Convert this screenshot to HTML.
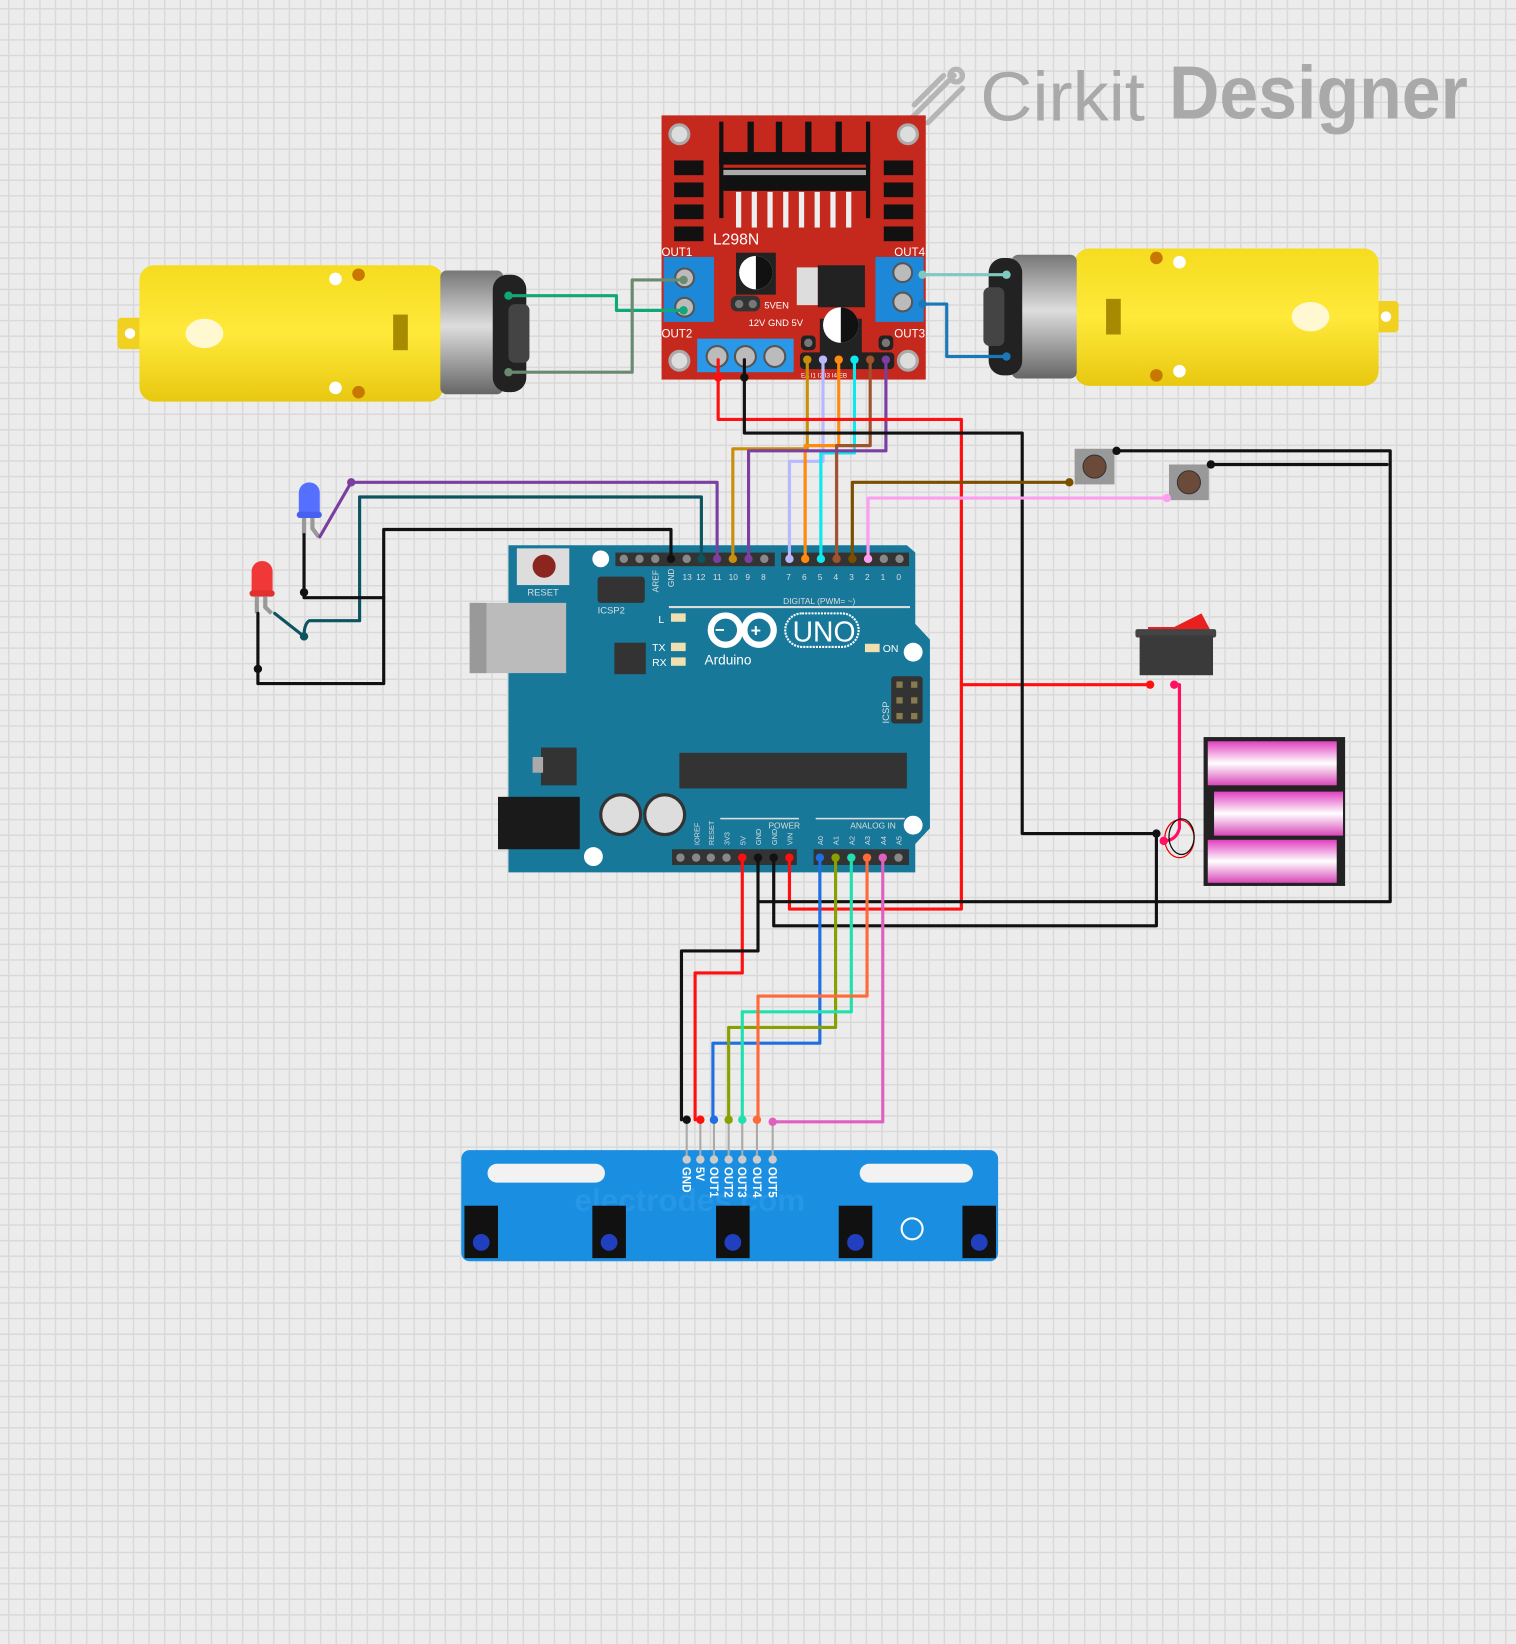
<!DOCTYPE html>
<html><head><meta charset="utf-8"><style>
html,body{margin:0;padding:0;}
body{width:1516px;height:1644px;overflow:hidden;background-color:#ececec;
background-image:linear-gradient(to right,#d9d9d9 1.5px,transparent 1.5px),linear-gradient(to bottom,#d9d9d9 1.5px,transparent 1.5px);
background-size:15.6px 15.6px;background-position:8px 8px;}
svg{position:absolute;left:0;top:0;}
text{font-family:"Liberation Sans",sans-serif;}
.w{fill:none;stroke-width:3;stroke-linejoin:round;stroke-linecap:round;}
</style></head><body>
<svg width="1516" height="1644" viewBox="0 0 1446 1568" xmlns="http://www.w3.org/2000/svg">
<defs>
<linearGradient id="yel" x1="0" y1="0" x2="0" y2="1"><stop offset="0" stop-color="#f5dc20"/><stop offset=".5" stop-color="#ffe93a"/><stop offset="1" stop-color="#e8c810"/></linearGradient>
<linearGradient id="met" x1="0" y1="0" x2="0" y2="1"><stop offset="0" stop-color="#777"/><stop offset=".45" stop-color="#ddd"/><stop offset="1" stop-color="#666"/></linearGradient>
<linearGradient id="pink" x1="0" y1="0" x2="0" y2="1"><stop offset="0" stop-color="#e040c0"/><stop offset=".5" stop-color="#fff"/><stop offset="1" stop-color="#d848b8"/></linearGradient>
</defs>

<!-- Logo -->
<g stroke="#b5b5b5" stroke-width="5" fill="none" stroke-linecap="round">
<line x1="870" y1="112" x2="910" y2="72"/><line x1="885" y1="117" x2="918" y2="84"/><line x1="872" y1="100" x2="900" y2="72"/>
<circle cx="912" cy="72" r="6"/></g>
<text x="935" y="115" font-size="66" fill="#a9a9a9" textLength="157" lengthAdjust="spacingAndGlyphs">Cirkit</text>
<text x="1115" y="113" font-size="72" font-weight="bold" fill="#a9a9a9" textLength="285" lengthAdjust="spacingAndGlyphs">Designer</text>

<!-- Left motor -->
<rect x="112" y="303" width="30" height="30" rx="4" fill="#f0d020"/>
<circle cx="124" cy="318" r="5" fill="#fff"/>
<rect x="133" y="253" width="290" height="130" rx="14" fill="url(#yel)"/>
<ellipse cx="195" cy="318" rx="18" ry="14" fill="#fff8d0"/>
<rect x="375" y="300" width="14" height="34" fill="#a88a00"/>
<circle cx="320" cy="266" r="6" fill="#fff"/><circle cx="342" cy="262" r="6" fill="#c87800"/>
<circle cx="320" cy="370" r="6" fill="#fff"/><circle cx="342" cy="374" r="6" fill="#c87800"/>
<rect x="420" y="258" width="60" height="118" rx="6" fill="url(#met)"/>
<rect x="470" y="262" width="32" height="112" rx="14" fill="#222"/>
<rect x="485" y="290" width="20" height="56" rx="6" fill="#444"/>

<!-- Right motor -->
<rect x="1308" y="287" width="26" height="30" rx="4" fill="#f0d020"/>
<circle cx="1322" cy="302" r="5" fill="#fff"/>
<rect x="1025" y="237" width="290" height="131" rx="14" fill="url(#yel)"/>
<ellipse cx="1250" cy="302" rx="18" ry="14" fill="#fff8d0"/>
<rect x="1055" y="285" width="14" height="34" fill="#a88a00"/>
<circle cx="1125" cy="250" r="6" fill="#fff"/><circle cx="1103" cy="246" r="6" fill="#c87800"/>
<circle cx="1125" cy="354" r="6" fill="#fff"/><circle cx="1103" cy="358" r="6" fill="#c87800"/>
<rect x="965" y="243" width="62" height="118" rx="6" fill="url(#met)"/>
<rect x="943" y="246" width="32" height="112" rx="14" fill="#222"/>
<rect x="938" y="274" width="20" height="56" rx="6" fill="#444"/>

<!-- L298N -->
<rect x="631" y="110" width="252" height="252" fill="#c5281c"/>
<g fill="#ddd" stroke="#aaa" stroke-width="3"><circle cx="648" cy="128" r="9"/><circle cx="866" cy="128" r="9"/><circle cx="648" cy="344" r="9"/><circle cx="866" cy="344" r="9"/></g>
<g fill="#111"><rect x="686" y="116" width="4" height="92"/><rect x="826" y="116" width="4" height="92"/>
<rect x="686" y="145" width="144" height="12"/><rect x="713" y="116" width="6" height="35"/><rect x="740" y="116" width="6" height="35"/><rect x="768" y="116" width="6" height="35"/><rect x="797" y="116" width="6" height="35"/>
<rect x="690" y="160" width="136" height="22"/></g>
<rect x="690" y="162" width="136" height="5" fill="#aaa"/>
<g fill="#eee"><rect x="702" y="183" width="5" height="34"/><rect x="717" y="183" width="5" height="34"/><rect x="732" y="183" width="5" height="34"/><rect x="747" y="183" width="5" height="34"/><rect x="762" y="183" width="5" height="34"/><rect x="777" y="183" width="5" height="34"/><rect x="792" y="183" width="5" height="34"/><rect x="807" y="183" width="5" height="34"/></g>
<g fill="#111"><rect x="643" y="153" width="28" height="14"/><rect x="643" y="174" width="28" height="14"/><rect x="643" y="195" width="28" height="14"/><rect x="643" y="216" width="28" height="14"/>
<rect x="843" y="153" width="28" height="14"/><rect x="843" y="174" width="28" height="14"/><rect x="843" y="195" width="28" height="14"/><rect x="843" y="216" width="28" height="14"/></g>
<text x="680" y="233" font-size="15" fill="#fff" font-family="Liberation Mono">L298N</text>
<text x="631" y="244" font-size="11" fill="#fff" font-family="Liberation Mono">OUT1</text>
<text x="853" y="244" font-size="11" fill="#fff" font-family="Liberation Mono">OUT4</text>
<text x="631" y="322" font-size="11" fill="#fff" font-family="Liberation Mono">OUT2</text>
<text x="853" y="322" font-size="11" fill="#fff" font-family="Liberation Mono">OUT3</text>
<text x="714" y="311" font-size="9" fill="#fff" font-family="Liberation Mono">12V GND  5V</text>
<text x="729" y="294" font-size="9" fill="#fff" font-family="Liberation Mono">5VEN</text>
<rect x="702" y="241" width="38" height="40" fill="#222"/>
<circle cx="721" cy="260" r="16" fill="#fff"/><path d="M721 244 a16 16 0 0 1 0 32z" fill="#111"/>
<rect x="780" y="253" width="45" height="40" fill="#222"/><rect x="760" y="255" width="20" height="36" fill="#ddd"/>
<rect x="697" y="282" width="28" height="15" rx="6" fill="#333"/><circle cx="705" cy="290" r="4" fill="#777"/><circle cx="718" cy="290" r="4" fill="#777"/>
<rect x="782" y="304" width="40" height="40" fill="#222"/><circle cx="802" cy="310" r="17" fill="#fff"/><path d="M802 293 a17 17 0 0 1 0 34z" fill="#111"/>
<rect x="633" y="245" width="48" height="62" fill="#1e88d8"/>
<rect x="835" y="245" width="46" height="62" fill="#1e88d8"/>
<rect x="665" y="323" width="92" height="32" fill="#2a98e8"/>
<g fill="#bbb" stroke="#555" stroke-width="2"><circle cx="653" cy="265" r="9"/><circle cx="653" cy="293" r="9"/><circle cx="861" cy="260" r="9"/><circle cx="861" cy="288" r="9"/>
<circle cx="684" cy="340" r="10"/><circle cx="711" cy="340" r="10"/><circle cx="739" cy="340" r="10"/></g>
<rect x="764" y="320" width="14" height="14" rx="4" fill="#222"/><circle cx="771" cy="327" r="4" fill="#777"/>
<rect x="838" y="320" width="14" height="14" rx="4" fill="#222"/><circle cx="845" cy="327" r="4" fill="#777"/>
<rect x="763" y="336" width="90" height="16" rx="4" fill="#222"/>
<text x="764" y="360" font-size="6" fill="#fff">EA I1 I2 I3 I4 EB</text>

<!-- Arduino -->
<path d="M508 520 H865 L873 527 V595 L887 610 V790 L873 805 V832 H485 V520Z" fill="#17789a"/>
<rect x="493" y="523" width="50" height="35" fill="#ddd"/><circle cx="519" cy="540" r="11" fill="#8b2520"/>
<text x="503" y="568" font-size="9" fill="#ddd">RESET</text>
<rect x="448" y="575" width="92" height="67" fill="#bbb"/><rect x="448" y="575" width="16" height="67" fill="#999"/>
<rect x="570" y="550" width="45" height="25" rx="3" fill="#333"/><text x="570" y="585" font-size="9" fill="#ddd">ICSP2</text>
<circle cx="573" cy="533" r="8" fill="#fff"/><circle cx="871" cy="622" r="9" fill="#fff"/><circle cx="871" cy="787" r="9" fill="#fff"/><circle cx="566" cy="817" r="9" fill="#fff"/>
<rect x="587" y="527" width="152" height="13" fill="#333"/><rect x="745" y="527" width="122" height="13" fill="#333"/>
<g fill="#888"><circle cx="595" cy="533" r="4"/><circle cx="610" cy="533" r="4"/><circle cx="625" cy="533" r="4"/><circle cx="655" cy="533" r="4"/><circle cx="729" cy="533" r="4"/><circle cx="843" cy="533" r="4"/><circle cx="858" cy="533" r="4"/></g>
<g font-size="8" fill="#ddd"><text transform="translate(628,565) rotate(-90)">AREF</text><text transform="translate(643,560) rotate(-90)">GND</text></g>
<g font-size="8" fill="#ddd"><text x="651" y="553">13</text><text x="664" y="553">12</text><text x="680" y="553">11</text><text x="695" y="553">10</text><text x="711" y="553">9</text><text x="726" y="553">8</text><text x="750" y="553">7</text><text x="765" y="553">6</text><text x="780" y="553">5</text><text x="795" y="553">4</text><text x="810" y="553">3</text><text x="825" y="553">2</text><text x="840" y="553">1</text><text x="855" y="553">0</text>
<text x="747" y="576">DIGITAL (PWM=  ~)</text></g>
<rect x="638" y="578" width="230" height="2" fill="#ddd"/>
<text x="628" y="594" font-size="10" fill="#fff">L</text><rect x="640" y="585" width="14" height="8" fill="#f0e0b0"/>
<text x="622" y="621" font-size="10" fill="#fff">TX</text><rect x="640" y="613" width="14" height="8" fill="#f0e0b0"/>
<text x="622" y="635" font-size="10" fill="#fff">RX</text><rect x="640" y="627" width="14" height="8" fill="#f0e0b0"/>
<rect x="586" y="613" width="30" height="30" fill="#333"/>
<g fill="none" stroke="#fff" stroke-width="6"><circle cx="692" cy="601" r="14"/><circle cx="724" cy="601" r="14"/></g>
<text x="682" y="606" font-size="16" font-weight="bold" fill="#fff">−</text><text x="716" y="607" font-size="17" font-weight="bold" fill="#fff">+</text>
<rect x="749" y="585" width="70" height="32" rx="16" fill="none" stroke="#fff" stroke-width="2" stroke-dasharray="2 1"/>
<text x="756" y="612" font-size="27" fill="#fff">UNO</text>
<text x="672" y="634" font-size="13" fill="#fff">Arduino</text>
<rect x="825" y="614" width="14" height="8" fill="#f0e0b0"/><text x="842" y="622" font-size="10" fill="#fff">ON</text>
<rect x="850" y="645" width="30" height="45" rx="3" fill="#333"/>
<g fill="#8a7a50"><rect x="855" y="650" width="6" height="6"/><rect x="869" y="650" width="6" height="6"/><rect x="855" y="665" width="6" height="6"/><rect x="869" y="665" width="6" height="6"/><rect x="855" y="680" width="6" height="6"/><rect x="869" y="680" width="6" height="6"/></g>
<text transform="translate(848,690) rotate(-90)" font-size="9" fill="#ddd">ICSP</text>
<rect x="648" y="718" width="217" height="34" fill="#333"/>
<rect x="516" y="713" width="34" height="36" fill="#333"/><rect x="508" y="722" width="10" height="15" fill="#aaa"/>
<rect x="475" y="760" width="78" height="50" fill="#1a1a1a"/>
<circle cx="592" cy="777" r="19" fill="#ddd" stroke="#333" stroke-width="3"/><circle cx="634" cy="777" r="19" fill="#ddd" stroke="#333" stroke-width="3"/>
<text x="733" y="790" font-size="8" fill="#ddd">POWER</text><text x="811" y="790" font-size="8" fill="#ddd">ANALOG IN</text>
<rect x="687" y="780" width="75" height="1.5" fill="#ddd"/><rect x="778" y="780" width="85" height="1.5" fill="#ddd"/>
<rect x="641" y="810" width="119" height="15" fill="#333"/><rect x="776" y="810" width="91" height="15" fill="#333"/>
<g fill="#888"><circle cx="649" cy="818" r="4"/><circle cx="664" cy="818" r="4"/><circle cx="678" cy="818" r="4"/><circle cx="693" cy="818" r="4"/><circle cx="857" cy="818" r="4"/></g>
<g font-size="7" fill="#ddd"><text transform="translate(667,806) rotate(-90)">IOREF</text><text transform="translate(681,806) rotate(-90)">RESET</text><text transform="translate(696,806) rotate(-90)">3V3</text><text transform="translate(711,806) rotate(-90)">5V</text><text transform="translate(726,806) rotate(-90)">GND</text><text transform="translate(741,806) rotate(-90)">GND</text><text transform="translate(756,806) rotate(-90)">VIN</text>
<text transform="translate(785,806) rotate(-90)">A0</text><text transform="translate(800,806) rotate(-90)">A1</text><text transform="translate(815,806) rotate(-90)">A2</text><text transform="translate(830,806) rotate(-90)">A3</text><text transform="translate(845,806) rotate(-90)">A4</text><text transform="translate(860,806) rotate(-90)">A5</text></g>

<!-- Sensor -->
<rect x="440" y="1097" width="512" height="106" rx="8" fill="#1a8ee0"/>
<rect x="465" y="1110" width="112" height="18" rx="9" fill="#f2f2f2"/><rect x="820" y="1110" width="108" height="18" rx="9" fill="#f2f2f2"/>
<text x="548" y="1155" font-size="30" font-weight="bold" fill="#2a98e8" opacity=".8">electrodes.com</text>
<g><rect x="443" y="1150" width="32" height="50" fill="#111"/><circle cx="459" cy="1185" r="8" fill="#2040c0"/>
<rect x="565" y="1150" width="32" height="50" fill="#111"/><circle cx="581" cy="1185" r="8" fill="#2040c0"/>
<rect x="683" y="1150" width="32" height="50" fill="#111"/><circle cx="699" cy="1185" r="8" fill="#2040c0"/>
<rect x="800" y="1150" width="32" height="50" fill="#111"/><circle cx="816" cy="1185" r="8" fill="#2040c0"/>
<rect x="918" y="1150" width="32" height="50" fill="#111"/><circle cx="934" cy="1185" r="8" fill="#2040c0"/></g>
<circle cx="870" cy="1172" r="10" fill="none" stroke="#fff" stroke-width="2"/>
<g stroke="#aaa" stroke-width="2"><line x1="655" y1="1070" x2="655" y2="1105"/><line x1="668" y1="1070" x2="668" y2="1105"/><line x1="681" y1="1070" x2="681" y2="1105"/><line x1="695" y1="1070" x2="695" y2="1105"/><line x1="708" y1="1070" x2="708" y2="1105"/><line x1="722" y1="1070" x2="722" y2="1105"/><line x1="737" y1="1070" x2="737" y2="1105"/></g>
<g fill="#ccc"><circle cx="655" cy="1106" r="4"/><circle cx="668" cy="1106" r="4"/><circle cx="681" cy="1106" r="4"/><circle cx="695" cy="1106" r="4"/><circle cx="708" cy="1106" r="4"/><circle cx="722" cy="1106" r="4"/><circle cx="737" cy="1106" r="4"/></g>
<g font-size="11" font-weight="bold" fill="#fff"><text transform="translate(651,1113) rotate(90)">GND</text><text transform="translate(664,1113) rotate(90)">5V</text><text transform="translate(677,1113) rotate(90)">OUT1</text><text transform="translate(691,1113) rotate(90)">OUT2</text><text transform="translate(704,1113) rotate(90)">OUT3</text><text transform="translate(718,1113) rotate(90)">OUT4</text><text transform="translate(733,1113) rotate(90)">OUT5</text></g>

<!-- Buttons -->
<rect x="1025" y="428" width="38" height="34" fill="#999"/><circle cx="1044" cy="445" r="11" fill="#6b4a3a" stroke="#333"/>
<rect x="1115" y="443" width="38" height="34" fill="#999"/><circle cx="1134" cy="460" r="11" fill="#6b4a3a" stroke="#333"/>
<!-- Switch -->
<path d="M1146 585 L1155 602 H1095 V598 L1120 598Z" fill="#e82020"/>
<rect x="1083" y="600" width="77" height="8" rx="2" fill="#444"/><rect x="1087" y="606" width="70" height="38" fill="#3a3a3a"/>
<!-- Battery -->
<rect x="1148" y="703" width="135" height="142" fill="#222"/>
<rect x="1152" y="707" width="123" height="42" fill="url(#pink)"/>
<rect x="1158" y="755" width="123" height="42" fill="url(#pink)"/>
<rect x="1152" y="801" width="123" height="41" fill="url(#pink)"/>

<!-- LEDs -->
<path d="M285 480 V470 a10 10 0 0 1 20 0 V490 H285Z" fill="#5570ff"/><rect x="283" y="488" width="24" height="6" rx="3" fill="#4860f0"/>
<rect x="288" y="494" width="4" height="16" fill="#999"/><path d="M298 494 V504 L304 512" stroke="#999" stroke-width="4" fill="none"/>
<path d="M240 555 V545 a10 10 0 0 1 20 0 V565 H240Z" fill="#f03838"/><rect x="238" y="563" width="24" height="6" rx="3" fill="#e03030"/>
<rect x="243" y="569" width="4" height="16" fill="#999"/><path d="M253 569 V579 L259 585" stroke="#999" stroke-width="4" fill="none"/>

<!-- Wires -->
<g class="w">
<path stroke="#10a878" d="M485 282 H588 V296 H652"/>
<path stroke="#6a8a70" d="M485 355 H603 V267 H652"/>
<path stroke="#80c8c0" d="M880 262 H960"/>
<path stroke="#1a78b8" d="M880 290 H903 V340 H960"/>
<path stroke="#c8900a" d="M770 343 V428 H699 V533"/>
<path stroke="#b8b8ff" d="M785 343 V440 H753 V533"/>
<path stroke="#ff8a10" d="M800 343 V425 H768 V533"/>
<path stroke="#10e8f0" d="M815 343 V432 H783 V533"/>
<path stroke="#a0522d" d="M830 343 V425 H798 V533"/>
<path stroke="#7b3fa0" d="M845 343 V430 H714 V533"/>
<path stroke="#ff1010" d="M685 343 V400 H917 V867 H753 V818"/>
<path stroke="#ff1010" d="M917 653 H1097"/>
<path stroke="#111" d="M710 343 V413 H975 V795 H1103"/>
<path stroke="#111" d="M738 818 V883 H1103 V795"/>
<path stroke="#ff1060" d="M1120 653 H1125 V790 Q1122 802 1110 802"/>
<path stroke="#111" d="M1065 430 H1326 V860 H723"/>
<path stroke="#111" d="M1155 443 H1323"/>
<path stroke="#7a4f00" d="M1020 460 H813 V533"/>
<path stroke="#ff9ef0" d="M1113 475 H828 V533"/>
<path stroke="#7b3fa0" d="M684 533 V460 H335 L305 512"/>
<path stroke="#0d5460" d="M669 533 V474 H343 V592 H295 Q290 595 290 607 L262 585"/>
<path stroke="#111" d="M640 533 V505 H366 V652 H246 V585"/>
<path stroke="#111" d="M290 510 V570 H366"/>
<path stroke="#ff1010" d="M708 818 V928 H663 V1068"/>
<path stroke="#111" d="M723 818 V907 H650 V1068"/>
<path stroke="#1f6fe0" d="M782 818 V995 H680 V1068"/>
<path stroke="#8aa000" d="M797 818 V980 H695 V1068"/>
<path stroke="#20e0b0" d="M812 818 V965 H708 V1068"/>
<path stroke="#ff6a3a" d="M827 818 V950 H723 V1068"/>
<path stroke="#e060c0" d="M842 818 V1070 H738"/>
</g>
<g fill="none" stroke-width="1.2"><ellipse cx="1125" cy="800" rx="14" ry="18" stroke="#e00"/><ellipse cx="1127" cy="798" rx="12" ry="17" stroke="#111"/></g>
<!-- wire end dots -->
<g>
<circle cx="770" cy="343" r="4" fill="#c8900a"/><circle cx="785" cy="343" r="4" fill="#b8b8ff"/><circle cx="800" cy="343" r="4" fill="#ff8a10"/><circle cx="815" cy="343" r="4" fill="#10e8f0"/><circle cx="830" cy="343" r="4" fill="#a0522d"/><circle cx="845" cy="343" r="4" fill="#7b3fa0"/>
<circle cx="640" cy="533" r="4" fill="#111"/><circle cx="669" cy="533" r="4" fill="#0d5460"/><circle cx="684" cy="533" r="4" fill="#7b3fa0"/><circle cx="699" cy="533" r="4" fill="#c8900a"/><circle cx="714" cy="533" r="4" fill="#7b3fa0"/>
<circle cx="753" cy="533" r="4" fill="#b8b8ff"/><circle cx="768" cy="533" r="4" fill="#ff8a10"/><circle cx="783" cy="533" r="4" fill="#10e8f0"/><circle cx="798" cy="533" r="4" fill="#a0522d"/><circle cx="813" cy="533" r="4" fill="#7a4f00"/><circle cx="828" cy="533" r="4" fill="#ff9ef0"/>
<circle cx="708" cy="818" r="4" fill="#ff1010"/><circle cx="723" cy="818" r="4" fill="#111"/><circle cx="738" cy="818" r="4" fill="#111"/><circle cx="753" cy="818" r="4" fill="#ff1010"/>
<circle cx="782" cy="818" r="4" fill="#1f6fe0"/><circle cx="797" cy="818" r="4" fill="#8aa000"/><circle cx="812" cy="818" r="4" fill="#20e0b0"/><circle cx="827" cy="818" r="4" fill="#ff6a3a"/><circle cx="842" cy="818" r="4" fill="#e060c0"/>
<circle cx="655" cy="1068" r="4" fill="#111"/><circle cx="668" cy="1068" r="4" fill="#ff1010"/><circle cx="681" cy="1068" r="4" fill="#1f6fe0"/><circle cx="695" cy="1068" r="4" fill="#8aa000"/><circle cx="708" cy="1068" r="4" fill="#20e0b0"/><circle cx="722" cy="1068" r="4" fill="#ff6a3a"/><circle cx="737" cy="1070" r="4" fill="#e060c0"/>
<circle cx="1097" cy="653" r="4" fill="#ff1010"/><circle cx="1120" cy="653" r="4" fill="#ff1060"/><circle cx="1110" cy="802" r="4" fill="#ff1060"/><circle cx="1103" cy="795" r="4" fill="#111"/>
<circle cx="1065" cy="430" r="4" fill="#111"/><circle cx="1155" cy="443" r="4" fill="#111"/><circle cx="1020" cy="460" r="4" fill="#7a4f00"/><circle cx="1113" cy="475" r="4" fill="#ff9ef0"/>
<circle cx="335" cy="460" r="4" fill="#7b3fa0"/><circle cx="290" cy="607" r="4" fill="#0d5460"/><circle cx="290" cy="565" r="4" fill="#111"/><circle cx="246" cy="638" r="4" fill="#111"/>
<circle cx="485" cy="282" r="4" fill="#10a878"/><circle cx="485" cy="355" r="4" fill="#6a8a70"/><circle cx="652" cy="296" r="4" fill="#10a878"/><circle cx="652" cy="267" r="4" fill="#6a8a70"/>
<circle cx="880" cy="262" r="4" fill="#80c8c0"/><circle cx="880" cy="290" r="4" fill="#1a78b8"/><circle cx="960" cy="262" r="4" fill="#80c8c0"/><circle cx="960" cy="340" r="4" fill="#1a78b8"/>
<circle cx="685" cy="360" r="4" fill="#ff1010"/><circle cx="710" cy="360" r="4" fill="#111"/>
</g>
</svg>
</body></html>
